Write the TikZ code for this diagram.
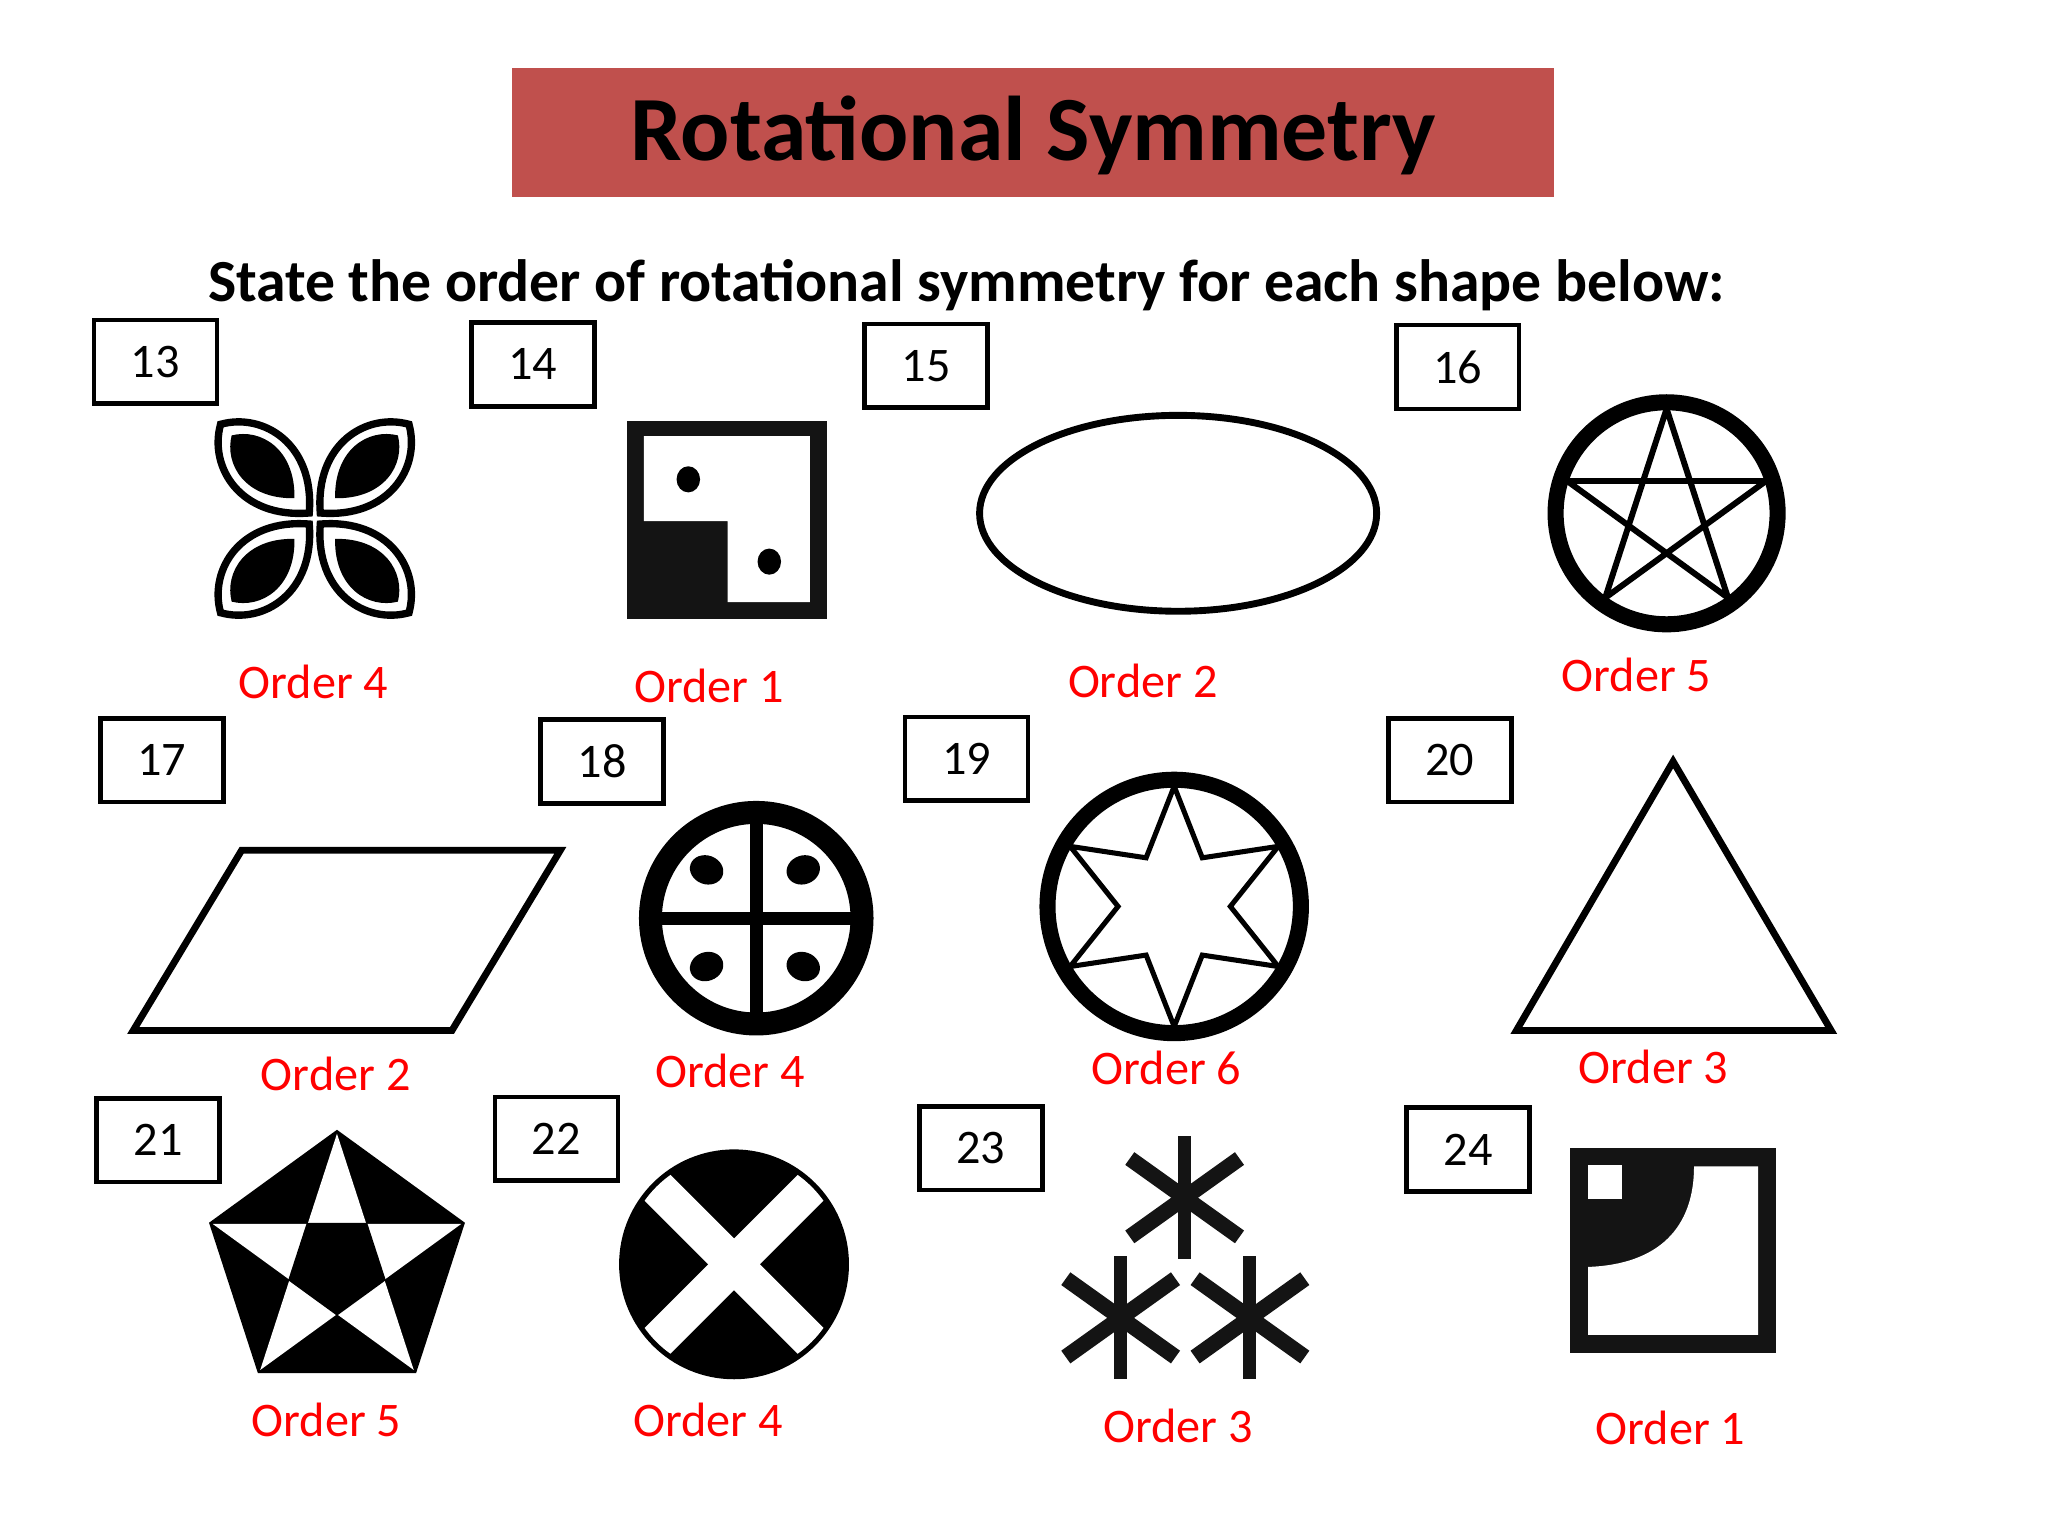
\documentclass[tikz,border=0pt]{standalone}
\usepackage{fontspec}
\setmainfont{Carlito}
\definecolor{titlered}{HTML}{C0504D}
\definecolor{ansred}{HTML}{FF0000}
\begin{document}
\begin{tikzpicture}[x=0.01cm,y=-0.01cm,
  numbox/.style={draw=black,line width=1pt,minimum width=0.94cm,minimum height=0.64cm,inner sep=0pt,font=\fontsize{10.5pt}{12pt}\selectfont},
  anslabel/.style={text=ansred,font=\fontsize{10.5pt}{12pt}\selectfont}]
\useasboundingbox (0,0) rectangle (1568,1176);
\fill[white] (0,0) rectangle (1568,1176);
% title
\fill[titlered] (392,52) rectangle (1190,151);
\node[font=\bfseries\fontsize{20pt}{24pt}\selectfont] (title) at (791,104) {Rotational Symmetry};
\node[font=\bfseries\fontsize{13pt}{15pt}\selectfont] (sub) at (740,218) {State the order of rotational symmetry for each shape below:};
% number boxes
\node[numbox] (n13) at (119,277) {13};
\node[numbox] (n14) at (408,279) {14};
\node[numbox] (n15) at (709,280) {15};
\node[numbox] (n16) at (1116,281) {16};
\node[numbox] (n17) at (124,582) {17};
\node[numbox] (n18) at (461,583) {18};
\node[numbox] (n19) at (740,581) {19};
\node[numbox] (n20) at (1110,582) {20};
\node[numbox] (n21) at (121,873) {21};
\node[numbox] (n22) at (426,872) {22};
\node[numbox] (n23) at (751,879) {23};
\node[numbox] (n24) at (1124,880) {24};
% labels
\node[anslabel] (a13) at (240,522) {Order 4};
\node[anslabel] (a14) at (543,525) {Order 1};
\node[anslabel] (a15) at (875,521) {Order 2};
\node[anslabel] (a16) at (1253,517) {Order 5};
\node[anslabel] (a17) at (257,822) {Order 2};
\node[anslabel] (a18) at (559,820) {Order 4};
\node[anslabel] (a19) at (893,818) {Order 6};
\node[anslabel] (a20) at (1266,817) {Order 3};
\node[anslabel] (a21) at (250,1087) {Order 5};
\node[anslabel] (a22) at (542,1087) {Order 4};
\node[anslabel] (a23) at (902,1092) {Order 3};
\node[anslabel] (a24) at (1279,1093) {Order 1};
% 13 petals
\foreach \r in {45,135,225,315}{
  \begin{scope}[shift={(241,397)},rotate=\r]
    \draw[line width=1.6pt,fill=white] (6,0) .. controls (40,-40) and (85,-30) .. (102,0) .. controls (85,30) and (40,40) .. (6,0) -- cycle;
    \fill[black] (22,0) .. controls (48,-27) and (78,-20) .. (90,0) .. controls (78,20) and (48,27) .. (22,0) -- cycle;
  \end{scope}}
% 14
\fill[black!92] (480,322) rectangle (633,474);
\fill[white] (493,334) -- (620,334) -- (620,461) -- (557,461) -- (557,399) -- (493,399) -- cycle;
\fill[black] (527,367) ellipse (9 and 10);
\fill[black] (589,430) ellipse (9 and 10);
% 15
\draw[line width=1.5pt] (902,393) ellipse (152 and 75);
% 16
\draw[line width=3.5pt] (1276,393) circle (85);
\begin{scope}[shift={(1276,393)}]
\draw[line width=1.3pt,line join=miter] (-90:80) -- (54:80) -- (198:80) -- (-18:80) -- (126:80) -- cycle;
\end{scope}
% 17
\draw[line width=1.5pt] (185,651) -- (429,651) -- (346,789) -- (102,789) -- cycle;
% 18
\draw[line width=5pt] (579,703) circle (81);
\fill[black] (574,622) rectangle (584,784);
\fill[black] (498,698) rectangle (660,708);
\fill[black,rotate around={-20:(541,666)}] (541,666) ellipse (13 and 11);
\fill[black,rotate around={20:(615,666)}] (615,666) ellipse (13 and 11);
\fill[black,rotate around={20:(541,740)}] (541,740) ellipse (13 and 11);
\fill[black,rotate around={-20:(615,740)}] (615,740) ellipse (13 and 11);
% 19
\draw[line width=3.5pt] (899,694) circle (97);
\begin{scope}[shift={(899,694)}]
\draw[line width=1.1pt] (-90:92) -- (-60:43) -- (-30:92) -- (0:43) -- (30:92) -- (60:43) -- (90:92) -- (120:43) -- (150:92) -- (180:43) -- (210:92) -- (240:43) -- cycle;
\end{scope}
% 20
\draw[line width=1.5pt] (1281,583) -- (1402,789) -- (1161,789) -- cycle;
% 21
\begin{scope}[shift={(258,968)}]
  \fill[black] (-90:103) -- (-18:103) -- (54:103) -- (126:103) -- (198:103) -- cycle;
  \fill[white,nonzero rule] (-90:100) -- (54:100) -- (198:100) -- (-18:100) -- (126:100) -- cycle;
  \fill[black] (90:39.3) -- (162:39.3) -- (234:39.3) -- (306:39.3) -- (18:39.3) -- cycle;
\end{scope}
% 22
\fill[black] (562,968) circle (88);
\begin{scope}
  \clip (562,968) circle (84);
  \fill[white,rotate around={45:(562,968)}] (452,954) rectangle (672,982);
  \fill[white,rotate around={-45:(562,968)}] (452,954) rectangle (672,982);
\end{scope}
% 23 asterisks
\foreach \cx/\cy in {907/917,858/1009,957/1009}{
  \fill[black!92] (\cx-5,\cy-47) rectangle (\cx+5,\cy+47);
  \draw[black!92,line width=3.4pt] (\cx-42,\cy-30) -- (\cx+42,\cy+30);
  \draw[black!92,line width=3.4pt] (\cx-42,\cy+30) -- (\cx+42,\cy-30);
}
% 24
\fill[black!92] (1202,879) rectangle (1360,1036);
\fill[white] (1216,970) .. controls (1270,968) and (1297,940) .. (1297,893) -- (1346,893) -- (1346,1022) -- (1216,1022) -- cycle;
\fill[white] (1216,892) rectangle (1242,918);
\end{tikzpicture}
\end{document}
